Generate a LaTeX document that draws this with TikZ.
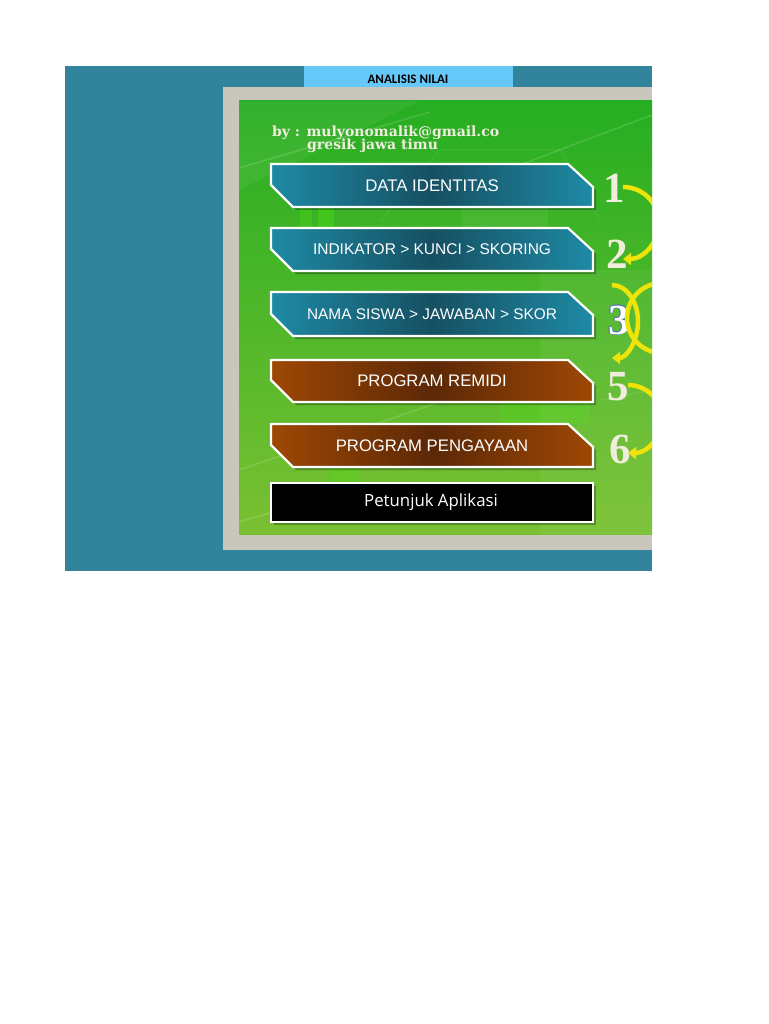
\documentclass[tikz,border=0pt]{standalone}
\usepackage{fontspec}
\usetikzlibrary{arrows.meta}
\newfontfamily\btnfont{Liberation Sans}
\newfontfamily\numfont{Liberation Serif}
\newfontfamily\authfont{DejaVu Serif}
\newfontfamily\tabfont{Carlito}
\newfontfamily\helpfont{Open Sans}
\definecolor{bgteal}{RGB}{49,132,155}
\definecolor{tabblue}{RGB}{102,200,248}
\definecolor{framegray}{RGB}{201,198,190}
\definecolor{gtop}{RGB}{38,174,34}
\definecolor{gbot}{RGB}{122,192,50}
\definecolor{tealE}{RGB}{30,138,165}
\definecolor{tealM}{RGB}{22,80,98}
\definecolor{brownE}{RGB}{158,72,4}
\definecolor{brownM}{RGB}{92,40,6}
\definecolor{cream}{RGB}{240,236,222}
\definecolor{yel}{RGB}{238,228,10}
\definecolor{numblue}{RGB}{70,95,185}
\tikzset{
  btnteal/.style={left color=tealE, right color=tealE, middle color=tealM},
  btnbrown/.style={left color=brownE, right color=brownE, middle color=brownM},
  btntext/.style={text=white, inner sep=0pt},
  numtext/.style={text=cream, font=\numfont\bfseries\fontsize{43}{43}\selectfont, inner sep=0pt, anchor=base},
  yarrow/.style={draw=yel, line width=4.5pt, -{Triangle[width=12pt,length=8pt]}},
  yarc/.style={draw=yel, line width=4.5pt},
  authtext/.style={text=cream, font=\authfont\bfseries\fontsize{14}{14}\selectfont, inner sep=0pt, anchor=base west},
  faint/.style={draw=white, opacity=0.15, line width=1.5pt},
}
\newcommand{\mybtn}[6]{%
  \fill[black,opacity=0.28] (274,#2+3) -- (571,#2+3) -- (596,#2+26) -- (596,#3+3) -- (296,#3+3) -- (274,#3-19) -- cycle;
  \path[#4, draw=white, line width=2.2pt] (271,#2) -- (568,#2) -- (593,#2+23) -- (593,#3) -- (293,#3) -- (271,#3-22) -- cycle;
  \node[btntext, font=\btnfont\fontsize{#6}{18}\selectfont] (#1) at (432,{(#2+#3)/2}) {#5};
}
\begin{document}
\begin{tikzpicture}[x=1pt,y=-1pt]
\useasboundingbox (0,0) rectangle (768,1024);
\fill[white] (0,0) rectangle (768,1024);
% teal background
\fill[bgteal] (65,66) rectangle (652,571);
% tab
\fill[tabblue] (304,66) rectangle (513,87);
\node[font=\tabfont\bfseries\fontsize{13}{15}\selectfont, inner sep=0pt] (tab) at (408,79) {ANALISIS NILAI};
% frame
\fill[framegray] (223,87) rectangle (652,550);
% green panel
\shade[top color=gtop, bottom color=gbot] (239,101) rectangle (652,534);
\begin{scope}
\clip (239,101) rectangle (652,534);
% faint background decoration
\fill[white,opacity=0.06] (239,101) -- (420,101) -- (239,190) -- cycle;
\fill[green!70!yellow,opacity=0.2] (300,207) rectangle (312,228);
\fill[green!70!yellow,opacity=0.25] (318,207) rectangle (334,228);
\fill[white,opacity=0.06] (462,200) rectangle (548,240);
\fill[white,opacity=0.05] (540,270) rectangle (652,534);
\fill[green!75!yellow,opacity=0.15] (500,402) rectangle (590,424);
\fill[green!80!yellow,opacity=0.15] (330,466) rectangle (360,483);
\draw[faint] (239,168) -- (430,112);
\draw[faint] (239,470) -- (470,392);
\draw[faint] (239,522) -- (360,486);
\draw[faint] (420,195) -- (520,165) -- (652,115);
\draw[white,opacity=0.08,line width=1pt] (380,222) -- (440,150) -- (560,150) -- (600,222);
\draw[white,opacity=0.1,line width=1pt] (600,400) -- (652,390);
\end{scope}
% author
\node[authtext] (by) at (272,137) {by : mulyonomalik@gmail.co};
\node[authtext] (loc) at (307,150) {gresik jawa timu};
% buttons
\mybtn{b1}{164}{207}{btnteal}{DATA IDENTITAS}{16.8}
\mybtn{b2}{228}{271}{btnteal}{INDIKATOR > KUNCI > SKORING}{15.5}
\mybtn{b3}{292}{336}{btnteal}{NAMA SISWA > JAWABAN > SKOR}{15.4}
\mybtn{b5}{360}{402}{btnbrown}{PROGRAM REMIDI}{16.7}
\mybtn{b6}{424}{467}{btnbrown}{PROGRAM PENGAYAAN}{16.7}
\fill[black,opacity=0.28] (274,486) rectangle (596,525);
\fill[black, draw=white, line width=2.2pt] (271,483) rectangle (593,522);
\node[text=white, font=\helpfont\fontsize{16.8}{20}\selectfont, inner sep=0pt] (help) at (431,502) {Petunjuk Aplikasi};
% numbers
\node[numtext] (n1) at (614,203) {1};
\node[numtext] (n2) at (617,268) {2};
\foreach \dx/\dy in {-0.45/0,0.45/0,0/-0.45,0/0.45}
  \node[numtext, text=numblue] at (619+\dx,334+\dy) {3};
\node[numtext, text=white] (n3) at (619,334) {3};
\node[numtext] (n5) at (618,400) {5};
\node[numtext] (n6) at (620,463) {6};
% yellow arrows
\begin{scope}
\clip (239,101) rectangle (652,534);
\draw[yarrow] (623,187) arc[start angle=-90, end angle=90, radius=36];
\draw[yarrow] (612,285) arc[start angle=-90, end angle=90, x radius=26, y radius=36.5];
\draw[yarc] (662,283) arc[start angle=-90, end angle=-270, x radius=35, y radius=35];
\draw[yarrow] (628,385) arc[start angle=-90, end angle=90, radius=34];
\end{scope}
\end{tikzpicture}
\end{document}
